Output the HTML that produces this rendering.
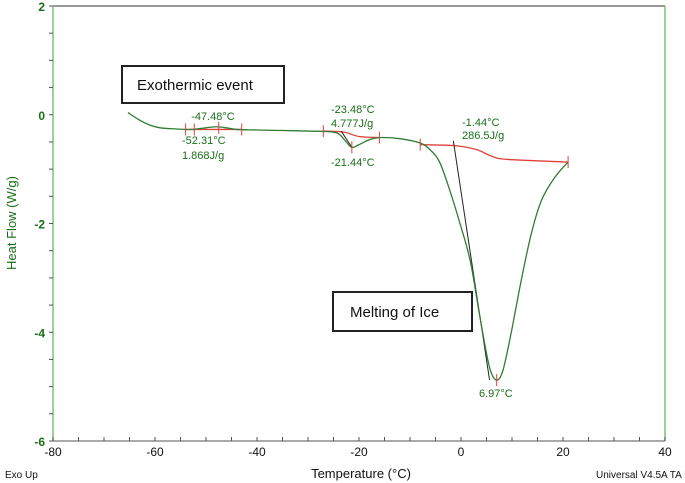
<!DOCTYPE html>
<html><head><meta charset="utf-8"><style>
html,body{margin:0;padding:0;background:#fff;}
svg{display:block;font-family:"Liberation Sans",Arial,sans-serif;}
</style></head><body>
<svg id="chart" width="685" height="483" viewBox="0 0 685 483">
<g id="axes"></g>
<g id="marks"></g>
<rect x="122" y="66" width="162" height="37" fill="#fff" stroke="#222" stroke-width="2"/>
<text x="137" y="90" font-size="15" fill="#111">Exothermic event</text>
<rect x="333" y="292" width="139" height="39" fill="#fff" stroke="#222" stroke-width="2"/>
<text x="350" y="317" font-size="15" fill="#111">Melting of Ice</text>
<text x="5" y="478" font-size="10" fill="#111">Exo Up</text>
<text x="596" y="478" font-size="10" fill="#111">Universal V4.5A TA I</text>
<text x="361" y="478" font-size="13" text-anchor="middle" fill="#111">Temperature (°C)</text>
<text x="16" y="223" font-size="13" text-anchor="middle" fill="#1a6e1a" transform="rotate(-90 16 223)">Heat Flow (W/g)</text>
<g font-size="11" fill="#1a6e1a">
<text x="213" y="120" text-anchor="middle">-47.48°C</text>
<text x="182" y="144">-52.31°C</text>
<text x="182" y="159">1.868J/g</text>
<text x="331" y="113">-23.48°C</text>
<text x="331" y="127">4.777J/g</text>
<text x="331" y="166">-21.44°C</text>
<text x="462" y="126">-1.44°C</text>
<text x="462" y="139">286.5J/g</text>
<text x="479" y="397">6.97°C</text>
</g>
</svg>
<script>
const xTicks = [-80,-60,-40,-20,0,20,40];
const yTicks = [2,0,-2,-4,-6];
const curveT = [-65.3,-63,-61,-59,-56,-53,-50,-48,-46,-44,-40,-35,-30,-26,-24,-22.5,-21.4,-20,-18,-16,-12,-8,-6,-4.2,-2.2,-0.2,1.8,3.4,4.8,5.8,7,8.2,9.8,11.8,13.8,15.8,18.4,21];
const curveHF = [0.04,-0.1,-0.19,-0.24,-0.26,-0.27,-0.24,-0.22,-0.24,-0.27,-0.28,-0.29,-0.3,-0.31,-0.35,-0.5,-0.6,-0.55,-0.46,-0.42,-0.44,-0.52,-0.65,-0.87,-1.39,-2.0,-2.68,-3.55,-4.29,-4.71,-4.88,-4.71,-4.03,-3.05,-2.18,-1.57,-1.15,-0.87];
const base1T = [-54,-43], base1HF = [-0.27,-0.27];
const base2T = [-27,-23,-20,-16], base2HF = [-0.3,-0.32,-0.4,-0.42];
const base3T = [-8,-1,3,6,9,21], base3HF = [-0.55,-0.57,-0.64,-0.76,-0.82,-0.87];
const markerT = [-54,-52.3,-47.5,-43,-27,-21.4,-16,-8,7,21];
const markerHF = [-0.27,-0.27,-0.24,-0.27,-0.3,-0.6,-0.42,-0.55,-4.88,-0.87];
const tangentT = [[-23.5,-21.4],[-1.5,5.6]];
const tangentHF = [[-0.3,-0.6],[-0.48,-4.88]];

const X0=53, X1=665, Y0=6, Y1=441;
const xs = t => X0 + (t+80)/120*(X1-X0);
const ys = v => Y0 + (2-v)/8*(Y1-Y0);
const NS="http://www.w3.org/2000/svg";
const axes=document.getElementById('axes'), marks=document.getElementById('marks');
function mk(tag,attrs,parent){const e=document.createElementNS(NS,tag);for(const k in attrs)e.setAttribute(k,attrs[k]);parent.appendChild(e);return e;}

let e;
e=mk('line',{x1:X0,y1:Y0,x2:X1,y2:Y0,stroke:'#777','stroke-width':1.5},axes);


e=mk('line',{x1:X0,y1:Y0,x2:X0,y2:Y1,stroke:'#7cc07c','stroke-width':1.5},axes);


e=mk('line',{x1:X1,y1:Y0,x2:X1,y2:Y1,stroke:'#7cc07c','stroke-width':1.5},axes);


e=mk('line',{x1:X0,y1:Y1,x2:X1,y2:Y1,stroke:'#555','stroke-width':1},axes);


for(let t=-80;t<=40;t+=5){
  e=mk('line',{x1:xs(t),y1:Y1,x2:xs(t),y2:Y1-4,stroke:'#555'},axes);
  
  
}
xTicks.forEach(t=>{
  e=mk('text',{x:xs(t),y:Y1+15,'font-size':12,'text-anchor':'middle',fill:'#111'},axes);
  e.textContent=t;
  
  
});
for(let v=2;v>=-6;v-=0.5){
  e=mk('line',{x1:X0-4,y1:ys(v),x2:X0,y2:ys(v),stroke:'#555'},axes);
  
  
}
yTicks.forEach(v=>{
  e=mk('text',{x:X0-8,y:ys(v)+5,'font-size':12,'text-anchor':'end',fill:'#1a6e1a','font-weight':'bold'},axes);
  e.textContent=v;
  
  
});
function smooth(T,V){
  const p=T.map((t,i)=>[xs(t),ys(V[i])]);
  let d='M'+p[0][0]+','+p[0][1];
  for(let i=0;i<p.length-1;i++){
    const p0=p[i-1]||p[i],p1=p[i],p2=p[i+1],p3=p[i+2]||p2;
    const c1=[p1[0]+(p2[0]-p0[0])/6,p1[1]+(p2[1]-p0[1])/6];
    const c2=[p2[0]-(p3[0]-p1[0])/6,p2[1]-(p3[1]-p1[1])/6];
    d+=' C'+c1+' '+c2+' '+p2;
  }
  return d;
}
[[base1T,base1HF],[base2T,base2HF],[base3T,base3HF]].forEach(([T,V],i)=>{
  e=mk('path',{d:smooth(T,V),fill:'none',stroke:'#e0403a','stroke-width':1.3},marks);
  
  
});
tangentT.forEach((T,i)=>{
  e=mk('line',{x1:xs(T[0]),y1:ys(tangentHF[i][0]),x2:xs(T[1]),y2:ys(tangentHF[i][1]),stroke:'#222','stroke-width':1},marks);
  
  
});
e=mk('path',{d:smooth(curveT,curveHF),fill:'none',stroke:'#2e7d32','stroke-width':1.3},marks);


markerT.forEach((t,i)=>{
  e=mk('line',{x1:xs(t),y1:ys(markerHF[i])-6,x2:xs(t),y2:ys(markerHF[i])+6,stroke:'#e0403a','stroke-width':1},marks);
  
  
});
</script>
</body></html>
